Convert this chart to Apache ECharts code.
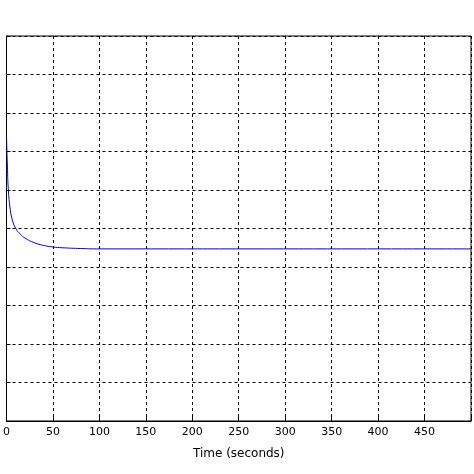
<!DOCTYPE html>
<html>
<head>
<meta charset="utf-8">
<script src="https://cdn.jsdelivr.net/npm/echarts@6/dist/echarts.min.js"></script>
<style>html,body{margin:0;padding:0;background:#fff}#c{width:474px;height:474px}</style>
</head>
<body>
<div id="c"></div>
<script>
// curve
var times = [0, 1, 2, 4, 6, 10, 15, 20, 30, 40, 50, 60, 80, 100, 500];
var values = [7.4, 6.6, 6.0, 5.5, 5.25, 5.0, 4.85, 4.75, 4.63, 4.56, 4.52, 4.5, 4.48, 4.47, 4.47];
var xTicks = [0, 50, 100, 150, 200, 250, 300, 350, 400, 450];

var chart = echarts.init(document.getElementById('c'));
var dashed = {show: true, lineStyle: {color: '#000', type: [3, 3], width: 1}};

chart.setOption({
    animation: false,
    grid: {left: 3, top: 36, right: -19, bottom: 53, show: true, borderColor: '#000', borderWidth: 1},
    xAxis: {
        type: 'value', min: 0, max: 500, interval: 50,
        name: 'Time (seconds)', nameLocation: 'middle', nameGap: 27,
        nameTextStyle: {color: '#000', fontSize: 12, fontFamily: 'DejaVu Sans'},
        axisLine: {lineStyle: {color: '#000'}},
        axisTick: {show: true, inside: true, length: 4, lineStyle: {color: '#000'}},
        axisLabel: {color: '#000', fontSize: 11, fontFamily: 'DejaVu Sans', margin: 6,
            formatter: function (v) { return xTicks.indexOf(v) >= 0 ? String(v) : ''; }},
        splitLine: dashed
    },
    yAxis: {
        type: 'value', min: 0, max: 10, interval: 1,
        axisLine: {lineStyle: {color: '#000'}},
        axisTick: {show: true, inside: true, length: 4, lineStyle: {color: '#000'}},
        axisLabel: {show: false},
        splitLine: dashed
    },
    series: [{
        type: 'line', smooth: true, symbol: 'none',
        lineStyle: {color: '#0000cc', width: 1},
        data: times.map(function (t, i) { return [t, values[i]]; })
    }]
});
</script>
</body>
</html>
